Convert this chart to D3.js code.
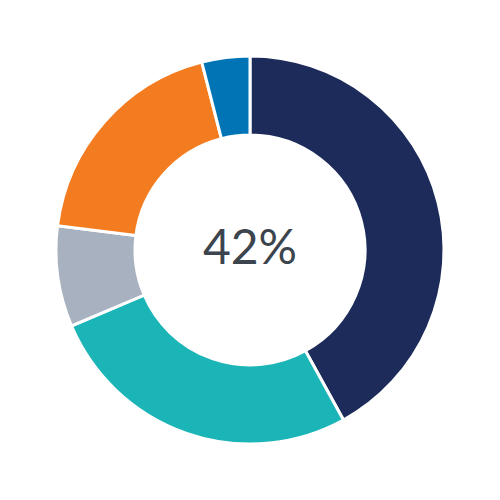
<!DOCTYPE html>
<html>
<head>
<meta charset="utf-8">
<script src="https://cdn.jsdelivr.net/npm/d3@7"></script>
<style>
  html, body { margin: 0; padding: 0; background: #fff; }
  svg { display: block; }
</style>
</head>
<body>
<svg id="chart" width="500" height="500"></svg>
<script>
const categories = ["A", "B", "C", "D", "E"];
const values = [42, 26.6, 8.4, 19, 4];
const colors = ["#1c2b5a", "#1bb5b7", "#a8b1bf", "#f47c20", "#0174b6"];
const centerLabel = "42%";

const svg = d3.select("#chart");
const g = svg.append("g").attr("transform", "translate(250,250)");

const pie = d3.pie().sort(null).value(d => d.value);
const arc = d3.arc().innerRadius(115).outerRadius(194);

const data = categories.map((c, i) => ({ cat: c, value: values[i], color: colors[i] }));

g.selectAll("path")
  .data(pie(data))
  .join("path")
  .attr("d", arc)
  .attr("fill", d => d.data.color)
  .attr("stroke", "#fff")
  .attr("stroke-width", 3);

g.append("text")
  .attr("text-anchor", "middle")
  .attr("y", -3)
  .attr("dy", "0.36em")
  .attr("font-family", "Lato, 'Open Sans', sans-serif")
  .attr("font-weight", 400)
  .attr("font-size", 48)
  .attr("fill", "#3c444d")
  .text(centerLabel);
</script>
</body>
</html>
